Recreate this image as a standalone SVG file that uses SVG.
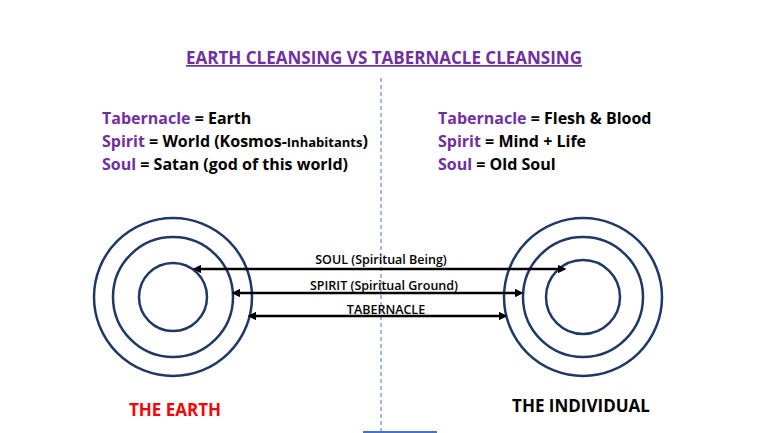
<svg xmlns="http://www.w3.org/2000/svg" width="768" height="433" viewBox="0 0 768 433">
<defs>
<style>
text{font-family:"Open Sans","Noto Sans",sans-serif;font-weight:bold}
.k{fill:#7030a0}
.b{font-size:16px;fill:#000}
.c{fill:none;stroke:#1f3864;stroke-width:2.5}
.a{stroke:#000;stroke-width:2.5;marker-start:url(#m);marker-end:url(#m)}
.l{font-size:12.5px;fill:#000;font-weight:600}
</style>
<marker id="m" viewBox="0 0 10 10" refX="5" refY="5" markerWidth="3.5" markerHeight="3.5" orient="auto-start-reverse"><path d="M0,0L10,5L0,10z" fill="#000"/></marker>
</defs>
<rect width="768" height="433" fill="#fff"/>
<text x="384" y="64" text-anchor="middle" font-size="17" fill="#7030a0" text-decoration="underline">EARTH CLEANSING VS TABERNACLE CLEANSING</text>
<line x1="381" y1="78" x2="381" y2="433" stroke="#4472c4" stroke-width="1" stroke-dasharray="4,3"/>
<line x1="363" y1="432" x2="437" y2="432" stroke="#4472c4" stroke-width="2"/>
<g id="left-text" class="b">
<text x="102" y="124" class="b"><tspan class="k">Tabernacle</tspan> = Earth</text>
<text x="102" y="147" class="b"><tspan class="k">Spirit</tspan> = World (Kosmos-<tspan font-size="13">Inhabitants</tspan>)</text>
<text x="102" y="170" class="b"><tspan class="k">Soul</tspan> = Satan (god of this world)</text>
</g>
<g id="right-text">
<text x="438" y="124" class="b"><tspan class="k">Tabernacle</tspan> = Flesh &amp; Blood</text>
<text x="438" y="147" class="b"><tspan class="k">Spirit</tspan> = Mind + Life</text>
<text x="438" y="170" class="b"><tspan class="k">Soul</tspan> = Old Soul</text>
</g>
<g id="earth">
<circle class="c" cx="173" cy="297" r="79"/>
<circle class="c" cx="173" cy="297" r="60"/>
<circle class="c" cx="173" cy="297" r="34"/>
<text x="175" y="416" text-anchor="middle" font-size="17" fill="#ff0000">THE EARTH</text>
</g>
<g id="individual">
<circle class="c" cx="583" cy="297" r="79"/>
<circle class="c" cx="583" cy="297" r="60"/>
<circle class="c" cx="583" cy="297" r="37"/>
<text x="581" y="412" text-anchor="middle" font-size="17" fill="#000">THE INDIVIDUAL</text>
</g>
<g id="connectors">
<line class="a" x1="197" y1="269" x2="562" y2="269"/>
<line class="a" x1="236" y1="293" x2="519" y2="293" stroke-width="1.8"/>
<line class="a" x1="252" y1="316" x2="503" y2="316"/>
<text x="381" y="264" text-anchor="middle" class="l">SOUL (Spiritual Being)</text>
<text x="384" y="290" text-anchor="middle" class="l">SPIRIT (Spiritual Ground)</text>
<text x="386" y="314" text-anchor="middle" class="l">TABERNACLE</text>
</g>
</svg>
